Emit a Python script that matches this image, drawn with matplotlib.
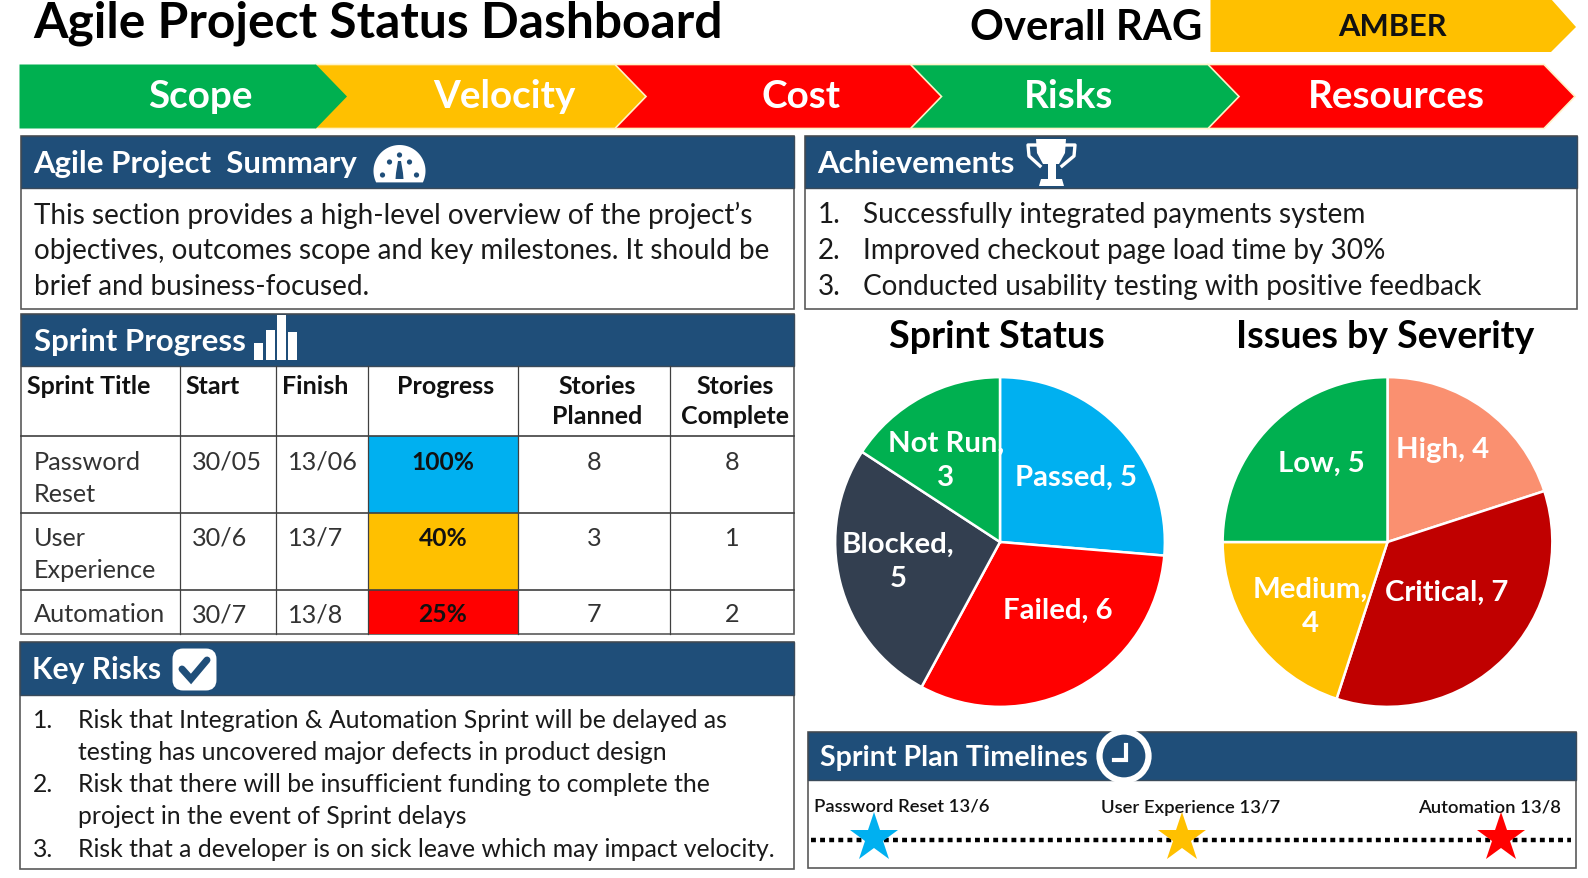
import numpy as np
import matplotlib
matplotlib.use("Agg")
import matplotlib.pyplot as plt
from matplotlib.patches import Polygon, Rectangle, Circle, FancyBboxPatch

plt.rcParams['font.family'] = ['Lato', 'DejaVu Sans']

W, H = 1588, 879
GREEN, AMBER, RED, BLUE, NAVY = '#00B050', '#FFC000', '#FF0000', '#00B0F0', '#1F4E79'

title_text = "Agile Project Status Dashboard"
overall_label = "Overall RAG"
overall_status = "AMBER"

chevron_labels = ["Scope", "Velocity", "Cost", "Risks", "Resources"]
chevron_colors = [GREEN, AMBER, RED, GREEN, RED]

summary_lines = ["This section provides a high-level overview of the project\u2019s",
                 "objectives, outcomes scope and key milestones. It should be",
                 "brief and business-focused."]
achievements = ["Successfully integrated payments system",
                "Improved checkout page load time by 30%",
                "Conducted usability testing with positive feedback"]

table_titles = [["Password", "Reset"], ["User", "Experience"], ["Automation"]]
table_start = ["30/05", "30/6", "30/7"]
table_finish = ["13/06", "13/7", "13/8"]
table_progress = [100, 40, 25]
table_progress_colors = [BLUE, AMBER, RED]
table_planned = [8, 3, 7]
table_complete = [8, 1, 2]

risks = [("1.", "Risk that Integration & Automation Sprint will be delayed as"),
         ("", "testing has uncovered major defects in product design"),
         ("2.", "Risk that there will be insufficient funding to complete the"),
         ("", "project in the event of Sprint delays"),
         ("3.", "Risk that a developer is on sick leave which may impact velocity.")]

status_names = ["Passed", "Failed", "Blocked", "Not Run"]
status_values = [5, 6, 5, 3]
status_colors = [BLUE, RED, '#333F50', GREEN]

severity_names = ["High", "Critical", "Medium", "Low"]
severity_values = [4, 7, 4, 5]
severity_colors = ['#FA9070', '#C00000', AMBER, GREEN]

milestone_names = ["Password Reset 13/6", "User Experience 13/7", "Automation 13/8"]
milestone_days = [164, 194, 225]   # day of year of 13 Jun, 13 Jul, 13 Aug
milestone_colors = [BLUE, AMBER, RED]

fig = plt.figure(figsize=(W / 100, H / 100), dpi=100, facecolor='white')
ax = fig.add_axes([0, 0, 1, 1], zorder=5)
ax.set_xlim(0, W)
ax.set_ylim(H - 2, -2)
ax.axis('off')
ax.patch.set_alpha(0)


def txt(x, y, s, size, bold=False, color='#111111', ha='left', va='center', **kw):
    return ax.text(x, y, s, fontsize=size, fontweight='bold' if bold else 'normal',
                   color=color, ha=ha, va=va, **kw)


def panel(x0, x1, y0, y1, y2, label, size=22.4, tx=None):
    ax.add_patch(Rectangle((x0, y0), x1 - x0, y2 - y0, fc='white', ec='#5A5A5A', lw=1.2))
    ax.add_patch(Rectangle((x0, y0), x1 - x0, y1 - y0, fc=NAVY, ec='#3A4A5A', lw=1.0))
    txt(x0 + 12.5 if tx is None else tx, (y0 + y1) / 2 + 1, label, size, True, 'white')


# Title row
txt(33, 21, title_text, 35.8, True, 'black')
txt(970, 26, overall_label, 30.2, True, 'black')
ax.add_patch(Polygon([(1210.5, -2), (1551, -2), (1576, 26), (1551, 51), (1210.5, 51)], fc=AMBER, ec='none'))
txt(1392, 25, overall_status, 22.2, True, '#111111', ha='center')

# Chevron ribbon
body_ends = [316, 615, 910.5, 1208, 1544]
depth = 31
y_a, y_b = 63.5, 127.5
starts = [19.5] + body_ends[:-1]
label_x = [200.5, 504.5, 801, 1068.5, 1396]
for i in range(len(chevron_labels) - 1, -1, -1):
    s, e = starts[i], body_ends[i]
    ax.add_patch(Polygon([(s, y_a), (e, y_a), (e + depth, (y_a + y_b) / 2), (e, y_b), (s, y_b)],
                         fc=chevron_colors[i], ec='#FFF3C8' if i else 'none', lw=1.2))
for name, lx in zip(chevron_labels, label_x):
    txt(lx, 94, name, 27.8, True, 'white', ha='center')

# Summary panel
panel(21, 794, 134.5, 186.5, 308, "Agile Project  Summary")
for yy, line in zip([213, 249, 285], summary_lines):
    txt(34, yy, line, 20.1, False, '#1a1a1a')
# gauge icon
th = np.linspace(np.deg2rad(-26), np.deg2rad(206), 60)
ax.add_patch(Polygon(np.c_[399.5 + 26 * np.cos(th), 170 - 26 * np.sin(th)], fc='white', ec='none'))
for dx, dy in [(-17, 4), (-10, -9), (0, -16), (10, -9), (17, 4)]:
    ax.add_patch(Circle((399.5 + dx, 170 + dy), 2.6, fc=NAVY, ec='none'))
ax.add_patch(Polygon([(398, 160), (401, 160), (403, 172), (403.5, 178), (395.5, 178), (396, 172)], fc=NAVY, ec='none'))

# Achievements panel
panel(805, 1577, 134.5, 186.5, 308, "Achievements")
for i, (yy, line) in enumerate(zip([213, 249, 285], achievements)):
    txt(818, yy, f"{i + 1}.", 20.1, False, '#1a1a1a')
    txt(863, yy, line, 20.1, False, '#1a1a1a')
# trophy icon
ax.add_patch(Polygon([(1036, 138), (1066, 138), (1065, 152), (1059, 163), (1043, 163), (1037, 152)], fc='white', ec='none'))
ax.add_patch(Rectangle((1047.5, 160), 8, 18, fc='white', ec='none'))
ax.add_patch(Polygon([(1041, 178), (1062, 178), (1064, 185), (1039, 185)], fc='white', ec='none'))
ax.plot([1037, 1028, 1029, 1040], [144, 144, 155, 165], color='white', lw=2.4)
ax.plot([1065, 1075, 1074, 1062], [144, 144, 155, 165], color='white', lw=2.4)

# Sprint progress panel and table
panel(21, 794, 313, 365, 633, "Sprint Progress")
for bx, by in zip([254, 266, 277, 288], [342, 329, 314, 331]):
    ax.add_patch(Rectangle((bx, by), 9, 359 - by, fc='white', ec='none'))
col_x = [21, 180, 275.5, 368, 518, 670, 794]
row_y = [365, 435, 512, 589, 633]
for i, color in enumerate(table_progress_colors):
    ax.add_patch(Rectangle((col_x[3], row_y[i + 1]), col_x[4] - col_x[3], row_y[i + 2] - row_y[i + 1], fc=color, ec='none'))
for x in col_x[1:-1]:
    ax.plot([x, x], [row_y[0], row_y[-1]], color='#404040', lw=0.9)
for y in row_y[1:-1]:
    ax.plot([col_x[0], col_x[-1]], [y, y], color='#404040', lw=1.2)
hs = 18.0
txt(27, 385, "Sprint Title", hs, True)
txt(185, 385, "Start", hs, True)
txt(282, 385, "Finish", hs, True)
txt(446, 385, "Progress", hs, True, ha='center')
txt(597, 385, "Stories", hs, True, ha='center')
txt(597, 415, "Planned", hs, True, ha='center')
txt(735, 385, "Stories", hs, True, ha='center')
txt(735, 415, "Complete", hs, True, ha='center')
row_text_y = [460, 536, 613]
for i, yy in enumerate(row_text_y):
    for j, part in enumerate(table_titles[i]):
        txt(34, yy + j * 32, part, 18.2, color='#333333')
    txt(192, yy, table_start[i], 18.2, color='#333333')
    txt(288, yy, table_finish[i], 18.2, color='#333333')
    txt(443, yy, f"{table_progress[i]}%", 17.7, True, ha='center')
    txt(594, yy, str(table_planned[i]), 18.2, color='#333333', ha='center')
    txt(732, yy, str(table_complete[i]), 18.2, color='#333333', ha='center')

# Key risks panel
panel(20, 794, 641, 693.5, 868, "Key Risks", size=21.6)
ax.add_patch(FancyBboxPatch((176, 651), 37, 35, boxstyle="round,pad=0,rounding_size=7", fc='white', ec='white', lw=5))
ax.plot([182, 191, 207], [668, 678, 659], color=NAVY, lw=5, solid_capstyle='round', solid_joinstyle='miter')
for yy, (num, line) in zip([718, 750.5, 783, 815, 848], risks):
    txt(33, yy, num, 17.8, color='#1a1a1a')
    txt(78, yy, line, 17.8, color='#1a1a1a')

# Pies
def pie(cx, cy, r, values, colors):
    pa = fig.add_axes([(cx - r) / W, 1 - (cy + r) / H, 2 * r / W, 2 * r / H], zorder=1)
    pa.pie(values, colors=colors, startangle=90, counterclock=False, radius=1,
           wedgeprops=dict(edgecolor='white', linewidth=1.8))
    pa.set_xlim(-1.01, 1.01)
    pa.set_ylim(-1.01, 1.01)


pie(1000, 543, 166.5, status_values, status_colors)
pie(1387.5, 543, 166.5, severity_values, severity_colors)
txt(997, 335, "Sprint Status", 27.2, True, 'black', ha='center')
txt(1385, 335, "Issues by Severity", 27.0, True, 'black', ha='center')

status_pos = [(1076, 476), (1058, 609), (898, 560), (946, 459)]
for (px, py), name, val in zip(status_pos, status_names, status_values):
    sep = ",\n" if name in ("Blocked", "Not Run") else ", "
    txt(px, py, f"{name}{sep}{val}", 21.2, True, 'white', ha='center', linespacing=1.38)
severity_pos = [(1443, 448), (1447, 591), (1310, 605), (1321, 462)]
for (px, py), name, val in zip(severity_pos, severity_names, severity_values):
    sep = ",\n" if name == "Medium" else ", "
    txt(px, py, f"{name}{sep}{val}", 21.2, True, 'white', ha='center', linespacing=1.38)

# Timeline panel
panel(807.5, 1576, 731, 778.5, 867, "Sprint Plan Timelines", size=20.6, tx=819.5)
ax.add_patch(Circle((1124, 755), 24.5, fc=NAVY, ec='white', lw=4.5))
ax.plot([1126, 1126, 1114], [744, 759, 759], color='white', lw=3, solid_joinstyle='miter')

tl = fig.add_axes([811 / W, 1 - 861 / H, (1571 - 811) / W, 40 / H], zorder=6)
tl.patch.set_alpha(0)
tl.axis('off')
tl.set_xlim(157.9, 231.8)
tl.set_ylim(-1, 1)
tl.plot([157.9, 231.8], [0, 0], color='black', lw=3.2, ls=(0, (1.1, 0.95)), zorder=1)
for d, c in zip(milestone_days, milestone_colors):
    tl.plot([d], [0.08], marker='*', ms=37, mfc=c, mec=c, mew=0, ls='none', zorder=2, clip_on=False)
label_pos = [(814, 805), (1101, 806), (1418, 806)]
for (px, py), name in zip(label_pos, milestone_names):
    ax.text(px, py, name, fontsize=13.3, color='#111111', va='center', ha='left', fontweight='semibold')

fig.savefig('out.png', dpi=100, facecolor='white')
